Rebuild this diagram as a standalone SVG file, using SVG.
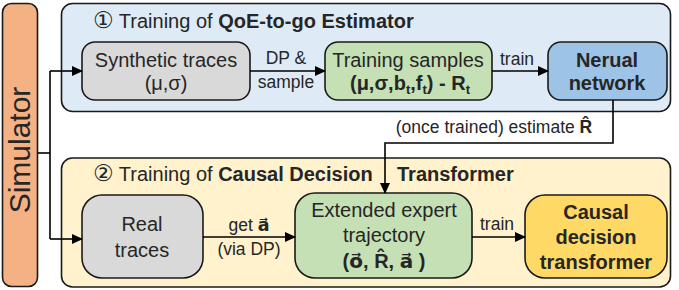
<svg xmlns="http://www.w3.org/2000/svg" width="679" height="290" viewBox="0 0 679 290">
<defs>
<marker id="ah" markerWidth="11" markerHeight="10" refX="10" refY="5" orient="auto" markerUnits="userSpaceOnUse">
<path d="M0,0 L11,5 L0,10 z" fill="#000"/>
</marker>
<style>
text{font-family:"Liberation Sans",Arial,sans-serif;fill:#262626}
.t{font-size:20px;text-anchor:middle}
.b{font-weight:bold}
.s{font-size:17.5px;text-anchor:middle}
.h{font-size:20px}
.v{font-family:"DejaVu Sans","Liberation Sans",sans-serif}
.c{font-family:"DejaVu Sans","Liberation Sans",sans-serif;font-size:23px}
.box{stroke:#1a1a1a;stroke-width:1.6}
.ln{fill:none;stroke:#000;stroke-width:1.6}
</style>
</defs>
<rect width="679" height="290" fill="#fff"/>
<g id="simulator">
<rect class="box" x="2.5" y="3.5" width="35" height="283" rx="9" fill="#F4B183"/>
<text x="0" y="0" transform="translate(30,150) rotate(-90)" font-size="30" text-anchor="middle">Simulator</text>
</g>
<g id="panel1">
<rect class="box" x="61.5" y="3.5" width="609" height="108" rx="11" fill="#DEEBF7"/>
<text class="h" x="93" y="28"><tspan class="c">①</tspan> Training of <tspan class="b">QoE-to-go Estimator</tspan></text>
</g>
<g id="panel2">
<rect class="box" x="61.5" y="158" width="609" height="129" rx="11" fill="#FFF2CC"/>
<text class="h" x="93" y="181"><tspan class="c">②</tspan> Training of <tspan class="b">Causal Decision</tspan></text>
<text class="h b" x="397" y="181">Transformer</text>
</g>
<g id="synthetic">
<rect class="box" x="82" y="42" width="168" height="58" rx="13" fill="#D9D9D9"/>
<text class="t" x="166" y="67">Synthetic traces</text>
<text class="t" x="166" y="90">(μ,σ)</text>
</g>
<g id="samples">
<rect class="box" x="325" y="42" width="167" height="58" rx="13" fill="#C5E0B4"/>
<text class="t" x="408" y="67">Training samples</text>
<text class="t b" x="410" y="90">(μ,σ,b<tspan font-size="13" dy="4">t</tspan><tspan dy="-4">,f</tspan><tspan font-size="13" dy="4">t</tspan><tspan dy="-4">) - R</tspan><tspan font-size="13" dy="4">t</tspan></text>
</g>
<g id="neural">
<rect class="box" x="548" y="42" width="119" height="58" rx="13" fill="#9DC3E6"/>
<text class="t b" x="607" y="67">Nerual</text>
<text class="t b" x="607" y="90">network</text>
</g>
<g id="real">
<rect class="box" x="82" y="195" width="121" height="83" rx="20" fill="#D9D9D9"/>
<text class="t" x="142" y="231">Real</text>
<text class="t" x="142" y="257">traces</text>
</g>
<g id="extended">
<rect class="box" x="295" y="193" width="177" height="85" rx="20" fill="#C5E0B4"/>
<text class="t" x="384" y="217">Extended expert</text>
<text class="t" x="384" y="242">trajectory</text>
<text class="t b" x="384" y="268">(<tspan class="v">o⃗</tspan>, R̂, <tspan class="v">a⃗</tspan> )</text>
</g>
<g id="causal">
<rect class="box" x="525" y="195" width="142" height="83" rx="20" fill="#FFD966"/>
<text class="t b" x="596" y="219">Causal</text>
<text class="t b" x="596" y="244">decision</text>
<text class="t b" x="596" y="269">transformer</text>
</g>
<g id="connectors">
<path class="ln" d="M38,153 H50"/>
<path class="ln" d="M50,71 V239"/>
<path class="ln" d="M50,71 H82" marker-end="url(#ah)"/>
<path class="ln" d="M50,239 H82" marker-end="url(#ah)"/>
<path class="ln" d="M250,71 H325" marker-end="url(#ah)"/>
<text class="s" x="286" y="64">DP &amp;</text>
<text class="s" x="286" y="88">sample</text>
<path class="ln" d="M492,71 H548" marker-end="url(#ah)"/>
<text class="s" x="517" y="65">train</text>
<path class="ln" d="M613,100 V143 H385 V193" marker-end="url(#ah)"/>
<text class="s" x="494" y="133">(once trained) estimate <tspan class="b">R̂</tspan></text>
<path class="ln" d="M203,237 H295" marker-end="url(#ah)"/>
<text class="s" x="249" y="231">get <tspan class="b v">a⃗</tspan></text>
<text class="s" x="249" y="255">(via DP)</text>
<path class="ln" d="M472,237 H525" marker-end="url(#ah)"/>
<text class="s" x="497" y="230">train</text>
</g>
</svg>
